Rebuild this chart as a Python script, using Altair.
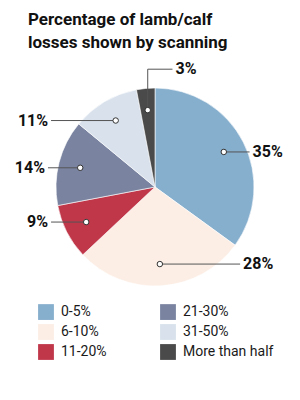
import math
import altair as alt
import pandas as pd

# ---- data ----
categories = ["0-5%", "6-10%", "11-20%", "21-30%", "31-50%", "More than half"]
values = [35, 28, 9, 14, 11, 3]
colors = ["#86AECD", "#FCEEE5", "#C0374A", "#7A84A0", "#D8E1EC", "#4A4A4A"]
title_lines = ["Percentage of lamb/calf", "losses shown by scanning"]

# ---- layout constants ----
W, H = 300, 400
CX, CY, R = 155, 187, 99          # pie centre / radius in pixels
DOT_R = 0.78                     # dot radius (fraction of R)
TOP_ZONE = 20                    # degrees from 12 o'clock that get an elbow leader

# unit coordinate system: pie centre = (0,0), radius = 1
x_dom = [-CX / R, (W - CX) / R]
y_dom = [-(H - CY) / R, CY / R]
xs = alt.Scale(domain=x_dom, nice=False, zero=False)
ys = alt.Scale(domain=y_dom, nice=False, zero=False)

df = pd.DataFrame({"cat": categories, "val": values, "order": range(len(values))})

# leader geometry derived from the data
total = sum(values)
lines, dots, labels = [], [], []
cum = 0
for i, (c, v) in enumerate(zip(categories, values)):
    mid = (cum + v / 2) / total * 2 * math.pi
    cum += v
    dx, dy = math.sin(mid) * DOT_R, math.cos(mid) * DOT_R
    dots.append({"cat": c, "x": dx, "y": dy})
    deg = math.degrees(mid) % 360
    if min(deg, 360 - deg) < TOP_ZONE:
        ey = 1.19
        lx = dx + 0.25
        pts = [(dx, dy), (dx, ey), (lx, ey)]
        align = "left"
    else:
        side = 1 if math.sin(mid) > 0 else -1
        edge = math.sqrt(max(0.0, 1 - dy * dy))
        if side > 0:
            lx = max(0.86, edge + 0.02)
        else:
            lx = min(-1.05, -edge - 0.1)
        pts = [(dx, dy), (lx, dy)]
        align = "left" if side > 0 else "right"
    for j, (px, py) in enumerate(pts):
        lines.append({"cat": c, "x": px, "y": py, "k": j})
    off = 0.03 if align == "left" else -0.03
    labels.append({"cat": c, "x": pts[-1][0] + off, "y": pts[-1][1],
                   "txt": f"{v}%", "align": align})

lines_df = pd.DataFrame(lines)
dots_df = pd.DataFrame(dots)
lab_df = pd.DataFrame(labels)

color = alt.Color(
    "cat:N",
    scale=alt.Scale(domain=categories, range=colors),
    legend=alt.Legend(
        title=None, orient="none", legendX=38, legendY=304, columns=2,
        symbolType="square", symbolSize=250, symbolStrokeWidth=0,
        symbolOpacity=1, labelFont="Roboto", labelFontSize=14,
        labelColor="#1a1a1a", rowPadding=4, columnPadding=53, labelOffset=7,
    ),
)

pie = alt.Chart(df).mark_arc(outerRadius=R, stroke="white", strokeWidth=0.6).encode(
    theta=alt.Theta("val:Q", stack=True),
    order=alt.Order("order:Q"),
    color=color,
    x=alt.datum(0, scale=xs, axis=None),
    y=alt.datum(0, scale=ys, axis=None),
)

leader = alt.Chart(lines_df).mark_line(color="#555555", strokeWidth=1).encode(
    x=alt.X("x:Q", scale=xs, axis=None),
    y=alt.Y("y:Q", scale=ys, axis=None),
    detail="cat:N",
    order="k:Q",
)

dot = alt.Chart(dots_df).mark_point(
    filled=True, fill="white", stroke="#333333", strokeWidth=1, size=30, opacity=1
).encode(
    x=alt.X("x:Q", scale=xs, axis=None),
    y=alt.Y("y:Q", scale=ys, axis=None),
)

def text_layer(al):
    return alt.Chart(lab_df).transform_filter(alt.datum.align == al).mark_text(
        font="Roboto", fontWeight="bold", fontSize=16,
        color="#111111", align=al, baseline="middle",
    ).encode(
        x=alt.X("x:Q", scale=xs, axis=None),
        y=alt.Y("y:Q", scale=ys, axis=None),
        text="txt:N",
    )

chart = alt.layer(pie, leader, dot, text_layer("left"), text_layer("right")).properties(
    width=W, height=H,
    autosize=alt.AutoSizeParams(type="none"),
    padding=0,
    title=alt.TitleParams(
        title_lines, anchor="start", frame="group", baseline="top",
        font="Roboto", fontWeight="bold", fontSize=17,
        color="#111111", dx=28, dy=52, lineHeight=23, offset=0,
    ),
).configure_view(stroke=None)

chart.save("out.html", embed_options={"renderer": "svg", "actions": False})
